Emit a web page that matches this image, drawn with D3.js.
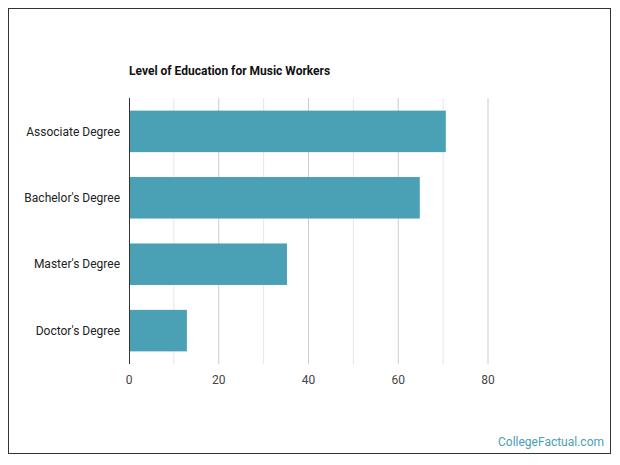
<!DOCTYPE html>
<html><head><meta charset="utf-8">
<script src="https://cdn.jsdelivr.net/npm/d3@7"></script>
<style>body{margin:0;background:#fff}text{font-family:Roboto,sans-serif}</style>
</head><body><svg id="c" width="620" height="465"></svg>
<script>
const categories = ["Associate Degree","Bachelor's Degree","Master's Degree","Doctor's Degree"];
const values = [70.6, 64.8, 35.2, 12.9];
const ticks = [0,20,40,60,80];
const svg = d3.select("#c");
svg.append("rect").attr("x",8.5).attr("y",8.5).attr("width",602).attr("height",445).attr("fill","#fff").attr("stroke","#333").attr("stroke-width",1);
const x = d3.scaleLinear().domain([0,80]).range([129,488]);
const y = d3.scaleBand().domain(categories).range([98,364]).paddingInner(0.375).paddingOuter(0.19);
svg.append("g").selectAll("line").data(d3.range(10,81,10)).join("line")
 .attr("x1",d=>x(d)).attr("x2",d=>x(d)).attr("y1",98).attr("y2",364)
 .attr("stroke",d=>d%20===0?"#ccc":"#e6e6e6").attr("stroke-width",1);
svg.append("g").selectAll("rect").data(values).join("rect")
 .attr("x",x(0)).attr("y",(d,i)=>y(categories[i])).attr("width",d=>x(d)-x(0)).attr("height",y.bandwidth()).attr("fill","#4aa0b5");
svg.append("line").attr("x1",129.5).attr("x2",129.5).attr("y1",98).attr("y2",364).attr("stroke","#333");
svg.append("g").selectAll("text").data(categories).join("text")
 .attr("x",120).attr("y",d=>y(d)+y.bandwidth()/2).attr("dy","0.35em").attr("text-anchor","end")
 .attr("font-size",12).attr("fill","#222").text(d=>d);
svg.append("g").selectAll("text").data(ticks).join("text")
 .attr("x",d=>x(d)).attr("y",384).attr("text-anchor","middle").attr("font-size",12).attr("fill","#444").text(d=>d);
svg.append("text").attr("x",129).attr("y",75).attr("font-size",12).attr("font-weight","bold").attr("fill","#111").text("Level of Education for Music Workers");
svg.append("text").attr("x",604).attr("y",446).attr("text-anchor","end").attr("font-size",12).attr("fill","#4aa0b5").text("CollegeFactual.com");
</script></body></html>
